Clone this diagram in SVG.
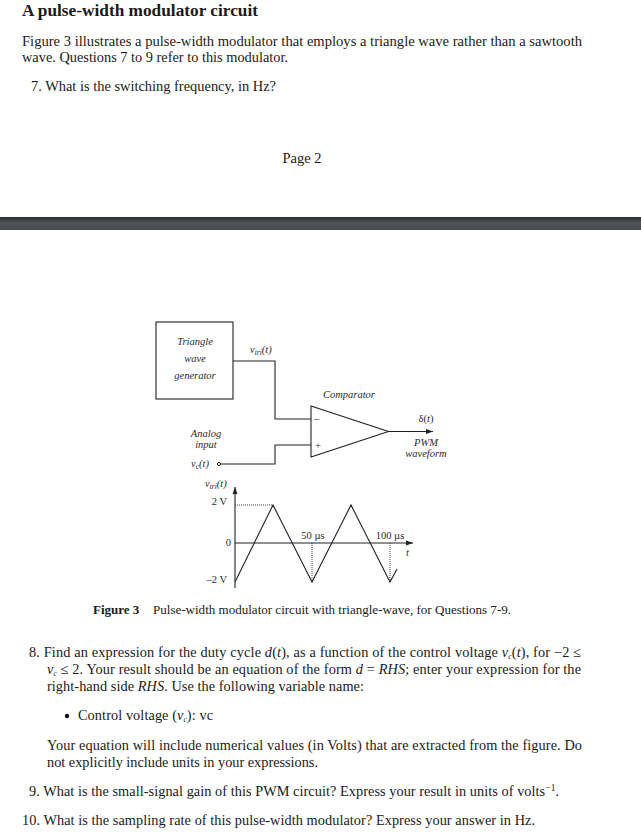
<svg xmlns="http://www.w3.org/2000/svg" width="641" height="840" viewBox="0 0 641 840">
<style>
text{font-family:"Liberation Serif","Times New Roman",serif;fill:#1a1a1a}
.b{font-size:14.300px}
.h{font-size:17.200px;font-weight:bold}
.f{font-size:10.500px;fill:#2a2a2a}
.s{font-size:7.500px}
.u{font-size:9.500px}
.i{font-style:italic}
.m{text-anchor:middle}
.e{text-anchor:end}
.l{fill:none;stroke:#222;stroke-width:1.1}
.d{fill:none;stroke:#444;stroke-width:1;stroke-dasharray:1 1}
</style>
<defs>
<linearGradient id="band" x1="0" y1="0" x2="0" y2="1"><stop offset="0" stop-color="#2c2c2c"/><stop offset="0.45" stop-color="#505456"/><stop offset="1" stop-color="#484a4c"/></linearGradient>
<marker id="arrow" markerWidth="8" markerHeight="6" refX="7" refY="3" orient="auto" markerUnits="userSpaceOnUse"><path d="M0 0.5L7 3L0 5.500z" fill="#222"/></marker>
</defs>
<rect width="641" height="840" fill="#fff"/>
<text class="h" x="22" y="16" textLength="236" lengthAdjust="spacingAndGlyphs">A pulse-width modulator circuit</text>
<text class="b" x="22" y="46" textLength="560" lengthAdjust="spacingAndGlyphs">Figure 3 illustrates a pulse-width modulator that employs a triangle wave rather than a sawtooth</text>
<text class="b" x="22" y="62" textLength="266" lengthAdjust="spacingAndGlyphs">wave. Questions 7 to 9 refer to this modulator.</text>
<text class="b" x="31" y="91" textLength="245" lengthAdjust="spacingAndGlyphs">7. What is the switching frequency, in Hz?</text>
<text class="m" x="302" y="163" style="font-size:14.500px">Page 2</text>
<rect x="0" y="217" width="641" height="13" fill="url(#band)"/>
<g id="connectors">
<path class="l" d="M233 361H275V419H311"/>
<path class="l" d="M220 464H275V445H311"/>
<path class="l" d="M388.500 431.500H433" marker-end="url(#arrow)"/>
</g>
<g id="generator">
<rect class="l" x="156" y="322" width="77" height="77" fill="#fff"/>
<text class="f i m" x="195" y="345">Triangle</text>
<text class="f i m" x="195" y="362">wave</text>
<text class="f i m" x="195" y="379">generator</text>
</g>
<g id="vtri-label"><text class="f i" x="250" y="353">v<tspan class="s" dy="2">tri</tspan><tspan dy="-2">(t)</tspan></text></g>
<g id="comparator">
<path class="l" d="M311 406V457L388.500 431.500Z" fill="#fff"/>
<text class="f" x="314" y="422">–</text>
<text class="f" x="315" y="449">+</text>
<text class="f i" x="323" y="398">Comparator</text>
</g>
<g id="analog-input">
<circle cx="219" cy="464" r="1.600" fill="#fff" stroke="#222"/>
<text class="f i m" x="206" y="437">Analog</text>
<text class="f i m" x="206" y="448">input</text>
<text class="f i" x="191" y="467">v<tspan class="s" dy="2">c</tspan><tspan dy="-2">(t)</tspan></text>
</g>
<g id="pwm-output">
<text class="f m" x="426" y="422">δ(<tspan class="i">t</tspan>)</text>
<text class="f i m" x="426" y="446">PWM</text>
<text class="f i m" x="426" y="457">waveform</text>
</g>
<g id="waveform">
<path class="l" d="M235 588V487" marker-end="url(#arrow)"/>
<path class="l" d="M235 543H413" marker-end="url(#arrow)"/>
<path class="d" d="M235 505H273M312 543V582M390 543V582"/>
<path class="l" d="M235 582L273 505L312 582L351 505L390 582L397 569"/>
<text class="f i" x="205" y="487">v<tspan class="s" dy="2">tri</tspan><tspan dy="-2">(t)</tspan></text>
<text class="f e" x="227" y="505">2 V</text>
<text class="f e" x="231" y="546">0</text>
<text class="f e" x="227" y="583">–2 V</text>
<text class="f m" x="313" y="539">50 µs</text>
<text class="f m" x="390" y="539">100 µs</text>
<text class="f i" x="406" y="556">t</text>
</g>
<text x="93" y="614" font-weight="bold" style="font-size:13px">Figure 3</text>
<text x="153" y="614" textLength="358" lengthAdjust="spacingAndGlyphs" style="font-size:13px">Pulse-width modulator circuit with triangle-wave, for Questions 7-9.</text>
<text class="b" x="29" y="657" textLength="552" lengthAdjust="spacing">8. Find an expression for the duty cycle <tspan class="i">d</tspan>(<tspan class="i">t</tspan>), as a function of the control voltage <tspan class="i">v</tspan><tspan class="s i" dy="2">c</tspan><tspan dy="-2">(</tspan><tspan class="i">t</tspan>), for −2 ≤</text>
<text class="b" x="47" y="674" textLength="534" lengthAdjust="spacing"><tspan class="i">v</tspan><tspan class="s i" dy="2">c</tspan><tspan dy="-2"> ≤ 2. Your result should be an equation of the form </tspan><tspan class="i">d</tspan> = <tspan class="i">RHS</tspan>; enter your expression for the</text>
<text class="b" x="47" y="691" textLength="317" lengthAdjust="spacing">right-hand side <tspan class="i">RHS</tspan>. Use the following variable name:</text>
<circle cx="67" cy="716" r="2.200" fill="#111"/>
<text class="b" x="78" y="720" textLength="135" lengthAdjust="spacing">Control voltage (<tspan class="i">v</tspan><tspan class="s i" dy="2">c</tspan><tspan dy="-2">): vc</tspan></text>
<text class="b" x="47" y="750" textLength="535" lengthAdjust="spacing">Your equation will include numerical values (in Volts) that are extracted from the figure. Do</text>
<text class="b" x="47" y="767" textLength="271" lengthAdjust="spacing">not explicitly include units in your expressions.</text>
<text class="b" x="29" y="796" textLength="530" lengthAdjust="spacing">9. What is the small-signal gain of this PWM circuit? Express your result in units of volts<tspan class="u" dy="-5">−1</tspan><tspan dy="5">.</tspan></text>
<text class="b" x="22" y="825" textLength="513" lengthAdjust="spacing">10. What is the sampling rate of this pulse-width modulator? Express your answer in Hz.</text>
</svg>
